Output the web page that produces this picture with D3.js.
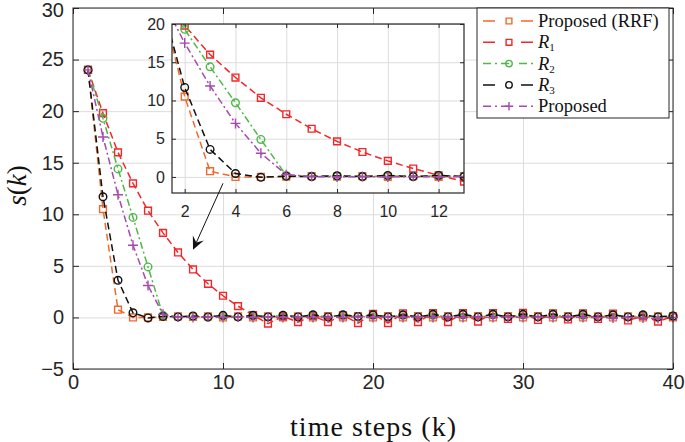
<!DOCTYPE html>
<html><head><meta charset="utf-8">
<script src="https://cdn.jsdelivr.net/npm/d3@7"></script>
<style>body{margin:0;background:#fff}svg{display:block}</style>
</head><body>
<svg id="c" width="685" height="442"></svg>
<script>
// ---------- data ----------
const steps = d3.range(1, 41);
const rrf      = [24, 10.5, 0.75, 0.0, 0.0, 0.05, 0.1, 0.05, 0.1, 0.0, 0.1, 0.0, 0.1, 0.0, 0.1, 0.0, 0.12, 0.0, 0.12, 0.0, 0.12, 0.0, 0.12, 0.0, 0.12, 0.0, 0.12, 0.0, 0.12, 0.0, 0.12, 0.0, 0.12, 0.0, 0.1, 0.0, 0.1, 0.0, 0.1, 0.0];
const r1       = [24, 19.8, 16.0, 13.0, 10.35, 8.2, 6.3, 4.65, 3.26, 2.1, 1.1, 0.22, -0.6, 0.1, -0.45, 0.15, -0.45, 0.2, -0.55, 0.35, -0.55, 0.4, -0.45, 0.42, -0.45, 0.42, -0.4, 0.42, -0.15, 0.45, -0.25, 0.4, -0.2, 0.4, -0.15, 0.38, -0.3, 0.15, -0.4, 0.1];
const r2       = [24, 19.3, 14.4, 9.7, 4.9, 0.2, 0.05, 0.1, 0.0, 0.15, 0.05, 0.15, 0.05, 0.2, 0.05, 0.2, 0.05, 0.2, 0.05, 0.2, 0.05, 0.2, 0.05, 0.2, 0.05, 0.25, 0.05, 0.25, 0.05, 0.25, 0.05, 0.25, 0.05, 0.2, 0.05, 0.2, 0.05, 0.2, 0.05, 0.15];
const r3       = [24, 11.7, 3.6, 0.45, -0.05, 0.1, 0.05, 0.15, 0.05, 0.2, 0.05, 0.2, 0.05, 0.2, 0.05, 0.25, 0.05, 0.25, 0.1, 0.25, 0.05, 0.25, 0.05, 0.3, 0.05, 0.3, 0.05, 0.3, 0.05, 0.3, 0.05, 0.3, 0.05, 0.3, 0.05, 0.25, 0.05, 0.25, 0.05, 0.15];
const proposed = [24, 17.5, 11.9, 7.0, 3.1, 0.3, 0.05, 0.0, 0.05, 0.0, 0.05, 0.0, 0.05, 0.0, 0.05, 0.0, 0.05, 0.0, 0.05, 0.0, 0.05, 0.0, 0.05, 0.0, 0.05, 0.0, 0.05, 0.0, 0.05, 0.0, 0.05, 0.0, 0.05, 0.0, 0.0, -0.05, 0.0, -0.05, -0.1, 0.0];
const seriesNames = ["Proposed (RRF)", "R1", "R2", "R3", "Proposed"];
const xTicks = [0, 10, 20, 30, 40];
const yTicks = [-5, 0, 5, 10, 15, 20, 25, 30];
const insetXTicks = [2, 4, 6, 8, 10, 12];
const insetYTicks = [0, 5, 10, 15, 20];
const arrowFrom = [10, 13.0];   // data coords of main axes
const arrowTo = [8, 6.55];

// ---------- styles ----------
const styles = [
  {color: "#EE6A2C", dash: "7,4", marker: "square"},
  {color: "#F4262A", dash: "7,4", marker: "square"},
  {color: "#4DB848", dash: "7,3,2,3", marker: "circle"},
  {color: "#111111", dash: "7,4", marker: "circle"},
  {color: "#A64AAE", dash: "7,3,2,3", marker: "plus"}
];
const seriesData = [rrf, r1, r2, r3, proposed];
const AX = "#262626", GRID = "#dcdcdc";
const SANS = "'Liberation Sans', Arial, sans-serif";
const SERIF = "'Liberation Serif', 'Times New Roman', serif";

const svg = d3.select("#c");

function markerPath(type, s) {
  if (type === "square") return `M${-s},${-s}H${s}V${s}H${-s}Z`;
  if (type === "circle") return `M${-s},0A${s},${s} 0 1,0 ${s},0A${s},${s} 0 1,0 ${-s},0`;
  return `M${-s},0H${s}M0,${-s}V${s}`;
}
const mSize = {square: 3.4, circle: 3.8, plus: 5};

function drawSeries(g, xs, ys) {
  seriesData.forEach((vals, i) => {
    const st = styles[i];
    const pts = steps.map((k, j) => [k, vals[j]]);
    const line = d3.line().x(d => xs(d[0])).y(d => ys(d[1]));
    g.append("path").attr("d", line(pts)).attr("fill", "none")
      .attr("stroke", st.color).attr("stroke-width", 1.5)
      .attr("stroke-dasharray", st.dash);
    g.selectAll(null).data(pts).enter().append("path")
      .attr("transform", d => `translate(${xs(d[0])},${ys(d[1])})`)
      .attr("d", markerPath(st.marker, mSize[st.marker]))
      .attr("fill", "none").attr("stroke", st.color).attr("stroke-width", 1.4);
  });
}

function styleAxis(g, fs) {
  g.select(".domain").remove();
  g.selectAll(".tick line").attr("stroke", AX);
  g.selectAll(".tick text").attr("fill", AX).style("font-family", SANS).style("font-size", fs + "px");
}

// ---------- main axes ----------
const M = {left: 73, right: 673, top: 8, bottom: 369};
const x = d3.scaleLinear().domain([0, 40]).range([M.left, M.right]);
const y = d3.scaleLinear().domain([-5, 30]).range([M.bottom, M.top]);

// grid
svg.append("g").attr("transform", `translate(0,${M.bottom})`)
  .call(d3.axisBottom(x).tickValues(xTicks).tickSize(-(M.bottom - M.top)).tickFormat(""))
  .call(g => { g.select(".domain").remove(); g.selectAll("line").attr("stroke", GRID); });
svg.append("g").attr("transform", `translate(${M.left},0)`)
  .call(d3.axisLeft(y).tickValues(yTicks).tickSize(-(M.right - M.left)).tickFormat(""))
  .call(g => { g.select(".domain").remove(); g.selectAll("line").attr("stroke", GRID); });

drawSeries(svg.append("g"), x, y);

// axes
svg.append("g").attr("transform", `translate(0,${M.bottom})`)
  .call(d3.axisBottom(x).tickValues(xTicks).tickSizeInner(-6).tickSizeOuter(0).tickPadding(6))
  .call(g => styleAxis(g, 20));
svg.append("g").attr("transform", `translate(0,${M.top})`)
  .call(d3.axisTop(x).tickValues(xTicks).tickSizeInner(-6).tickSizeOuter(0).tickFormat(""))
  .call(g => styleAxis(g, 20));
svg.append("g").attr("transform", `translate(${M.left},0)`)
  .call(d3.axisLeft(y).tickValues(yTicks).tickSizeInner(-6).tickSizeOuter(0).tickPadding(9))
  .call(g => styleAxis(g, 20))
  .call(g => g.selectAll(".tick text").filter(d => d === 30).attr("dy", "0.42em"));
svg.append("g").attr("transform", `translate(${M.right},0)`)
  .call(d3.axisRight(y).tickValues(yTicks).tickSizeInner(-6).tickSizeOuter(0).tickFormat(""))
  .call(g => styleAxis(g, 20));
svg.append("rect").attr("x", M.left).attr("y", M.top)
  .attr("width", M.right - M.left).attr("height", M.bottom - M.top)
  .attr("fill", "none").attr("stroke", AX).attr("stroke-width", 1);

// axis titles
svg.append("text").attr("x", (M.left + M.right) / 2).attr("y", 436)
  .attr("text-anchor", "middle").style("font-family", SERIF).style("font-size", "28px")
  .attr("fill", "#111").attr("textLength", 166).attr("lengthAdjust", "spacing")
  .text("time steps (k)");
const yl = svg.append("text").attr("transform", `translate(26,${(M.top + M.bottom) / 2 - 3}) rotate(-90)`)
  .attr("text-anchor", "middle").style("font-family", SERIF).style("font-size", "27px").attr("fill", "#111");
yl.append("tspan").style("font-style", "italic").text("s");
yl.append("tspan").text("(");
yl.append("tspan").style("font-style", "italic").text("k");
yl.append("tspan").text(")");

// ---------- inset ----------
const I = {left: 172, right: 464, top: 24, bottom: 193};
const xi = d3.scaleLinear().domain([1.5, 13]).range([I.left, I.right]);
const yi = d3.scaleLinear().domain([-2.1, 20]).range([I.bottom, I.top]);
svg.append("rect").attr("x", I.left).attr("y", I.top)
  .attr("width", I.right - I.left).attr("height", I.bottom - I.top).attr("fill", "#fff");
svg.append("clipPath").attr("id", "clipI").append("rect")
  .attr("x", I.left).attr("y", I.top).attr("width", I.right - I.left).attr("height", I.bottom - I.top);
svg.append("g").attr("transform", `translate(0,${I.bottom})`)
  .call(d3.axisBottom(xi).tickValues(insetXTicks).tickSize(-(I.bottom - I.top)).tickFormat(""))
  .call(g => { g.select(".domain").remove(); g.selectAll("line").attr("stroke", GRID); });
svg.append("g").attr("transform", `translate(${I.left},0)`)
  .call(d3.axisLeft(yi).tickValues(insetYTicks).tickSize(-(I.right - I.left)).tickFormat(""))
  .call(g => { g.select(".domain").remove(); g.selectAll("line").attr("stroke", GRID); });
drawSeries(svg.append("g").attr("clip-path", "url(#clipI)"), xi, yi);
svg.append("g").attr("transform", `translate(0,${I.bottom})`)
  .call(d3.axisBottom(xi).tickValues(insetXTicks).tickSizeInner(-4).tickSizeOuter(0).tickPadding(13))
  .call(g => styleAxis(g, 16));
svg.append("g").attr("transform", `translate(0,${I.top})`)
  .call(d3.axisTop(xi).tickValues(insetXTicks).tickSizeInner(-4).tickSizeOuter(0).tickFormat(""))
  .call(g => styleAxis(g, 16));
svg.append("g").attr("transform", `translate(${I.left},0)`)
  .call(d3.axisLeft(yi).tickValues(insetYTicks).tickSizeInner(-4).tickSizeOuter(0).tickPadding(7))
  .call(g => styleAxis(g, 16));
svg.append("g").attr("transform", `translate(${I.right},0)`)
  .call(d3.axisRight(yi).tickValues(insetYTicks).tickSizeInner(-4).tickSizeOuter(0).tickFormat(""))
  .call(g => styleAxis(g, 16));
svg.append("rect").attr("x", I.left).attr("y", I.top)
  .attr("width", I.right - I.left).attr("height", I.bottom - I.top)
  .attr("fill", "none").attr("stroke", AX).attr("stroke-width", 1.2);

// ---------- arrow ----------
(function () {
  const x0 = x(arrowFrom[0]), y0 = y(arrowFrom[1]);
  const x1 = x(arrowTo[0]), y1 = y(arrowTo[1]);
  const dx = x1 - x0, dy = y1 - y0, L = Math.hypot(dx, dy);
  const ux = dx / L, uy = dy / L, px = -uy, py = ux;
  const hl = 13, hw = 6, notch = 8;
  svg.append("line").attr("x1", x0).attr("y1", y0)
    .attr("x2", x1 - ux * notch).attr("y2", y1 - uy * notch)
    .attr("stroke", "#111").attr("stroke-width", 1);
  const pts = [
    [x1, y1],
    [x1 - ux * hl + px * hw, y1 - uy * hl + py * hw],
    [x1 - ux * notch, y1 - uy * notch],
    [x1 - ux * hl - px * hw, y1 - uy * hl - py * hw]
  ];
  svg.append("path").attr("d", "M" + pts.map(p => p.join(",")).join("L") + "Z").attr("fill", "#111");
})();

// ---------- legend ----------
const lg = svg.append("g");
lg.append("rect").attr("x", 477).attr("y", 8).attr("width", 192).attr("height", 110)
  .attr("fill", "#fff").attr("stroke", AX).attr("stroke-width", 1);
seriesNames.forEach((name, i) => {
  const st = styles[i];
  const yy = 21 + i * 21.3;
  lg.append("line").attr("x1", 483).attr("x2", 533).attr("y1", yy).attr("y2", yy)
    .attr("stroke", st.color).attr("stroke-width", 1.5)
    .attr("stroke-dasharray", st.dash === "7,4" ? "12,26" : "8,4,2,4,8,10,8,4,2,4");
  lg.append("path").attr("transform", `translate(509,${yy})`)
    .attr("d", markerPath(st.marker, mSize[st.marker] * 0.85))
    .attr("fill", "none").attr("stroke", st.color).attr("stroke-width", 1.4);
  const t = lg.append("text").attr("x", 538).attr("y", yy + 6)
    .style("font-family", SERIF).style("font-size", "18.5px").attr("fill", "#111");
  if (/^R\d$/.test(name)) {
    t.append("tspan").style("font-style", "italic").text("R");
    t.append("tspan").attr("dy", 3).style("font-size", "11px").text(name[1]);
  } else {
    t.text(name);
  }
});
</script>
</body></html>
